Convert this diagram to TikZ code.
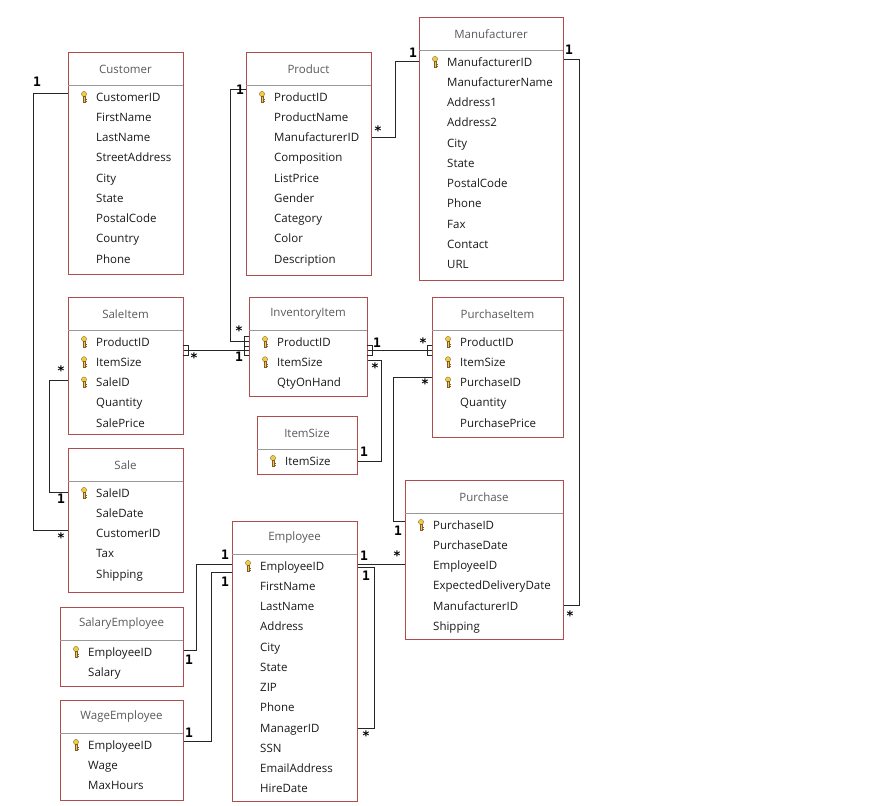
\documentclass[tikz,border=0pt]{standalone}
\usepackage{fontspec}
\setmainfont{Open Sans}
\newfontfamily\cardfont{DejaVu Sans Mono}
\begin{document}
\begin{tikzpicture}[x=1pt,y=-1pt,
  tbl/.style={draw=red!55!black!70, line width=0.8pt},
  hdr/.style={font=\fontsize{11.5}{13}\selectfont, text=black!65},
  fld/.style={font=\fontsize{11.5}{13}\selectfont, anchor=base west, inner sep=0pt, text=black!90},
  card/.style={font=\cardfont\bfseries\fontsize{13}{13}\selectfont, inner sep=0pt},
  rel/.style={line width=0.8pt, black!85},
  brk/.style={line width=0.8pt, black!85}]
\useasboundingbox (0,0) rectangle (877,805);
\newcommand\keyicon[2]{%
  \fill[yellow!60!brown!90, draw=brown!70!black, line width=0.3pt] (#1,#2-3) circle (2.6);
  \fill[yellow!60!brown!90, draw=brown!70!black, line width=0.3pt] (#1-1,#2-1) rectangle (#1+1,#2+5);
  \draw[brown!70!black, line width=0.5pt] (#1+1,#2+2) -- (#1+2.5,#2+2) (#1+1,#2+4)--(#1+2.5,#2+4);}
\newcommand\ertable[7]{%
  \node[tbl, minimum width=#4-#2, minimum height=#5-#3, inner sep=0pt, anchor=north west] (#1) at (#2,#3) {};
  \node[hdr] (#1-t) at ({(#2+#4)/2},#3+17) {#6};
  \draw[black!40, line width=0.8pt] (#2,#3+33) -- (#4,#3+33);
  \foreach \kk/\tt [count=\i from 0] in {#7} {
    \pgfmathsetmacro\yy{#3+45+20.25*\i}
    \node[fld] (#1-\i) at (#2+28,\yy+4.2) {\tt};
    \if K\kk \keyicon{#2+16}{\yy}\fi
  }}
\ertable{customer}{68}{52}{183}{274}{Customer}{K/CustomerID,N/FirstName,N/LastName,N/StreetAddress,N/City,N/State,N/PostalCode,N/Country,N/Phone}
\ertable{product}{246}{52}{371}{275}{Product}{K/ProductID,N/ProductName,N/ManufacturerID,N/Composition,N/ListPrice,N/Gender,N/Category,N/Color,N/Description}
\ertable{manuf}{419}{17}{563}{280}{Manufacturer}{K/ManufacturerID,N/ManufacturerName,N/Address1,N/Address2,N/City,N/State,N/PostalCode,N/Phone,N/Fax,N/Contact,N/URL}
\ertable{saleitem}{68}{297}{183}{434}{SaleItem}{K/ProductID,K/ItemSize,K/SaleID,N/Quantity,N/SalePrice}
\ertable{invitem}{249}{297}{367}{396}{InventoryItem}{K/ProductID,K/ItemSize,N/QtyOnHand}
\ertable{puritem}{432}{297}{563}{437}{PurchaseItem}{K/ProductID,K/ItemSize,K/PurchaseID,N/Quantity,N/PurchasePrice}
\ertable{itemsize}{257}{416}{357}{474}{ItemSize}{K/ItemSize}
\ertable{sale}{68}{448}{183}{592}{Sale}{K/SaleID,N/SaleDate,N/CustomerID,N/Tax,N/Shipping}
\ertable{purchase}{405}{480}{563}{639}{Purchase}{K/PurchaseID,N/PurchaseDate,N/EmployeeID,N/ExpectedDeliveryDate,N/ManufacturerID,N/Shipping}
\ertable{employee}{232}{521}{357}{801}{Employee}{K/EmployeeID,N/FirstName,N/LastName,N/Address,N/City,N/State,N/ZIP,N/Phone,N/ManagerID,N/SSN,N/EmailAddress,N/HireDate}
\ertable{salary}{60}{607}{183}{686}{SalaryEmployee}{K/EmployeeID,N/Salary}
\ertable{wage}{60}{700}{183}{800}{WageEmployee}{K/EmployeeID,N/Wage,N/MaxHours}
% connectors
\draw[rel] (customer.west|-0,93) -| (33,530) -- (sale.west|-0,530);
\node[card] at (37,82) {1}; \node[card] at (61,538) {*};
\draw[rel] (product.west|-0,89) -| (230,341) -- (invitem.west|-0,341);
\node[card] at (240,90) {1}; \node[card] at (239,331) {*};
\draw[rel] (saleitem.east|-0,350) -- (invitem.west|-0,350);
\node[card] at (194,358) {*}; \node[card] at (239,357) {1};
\draw[rel] (invitem.east|-0,350) -- (puritem.west|-0,350);
\node[card] at (377,343) {1}; \node[card] at (423,343) {*};
\draw[rel] (invitem.east|-0,360) -| (381,461) -- (itemsize.east|-0,461);
\node[card] at (375,368) {*}; \node[card] at (364,452) {1};
\draw[rel] (puritem.west|-0,377) -| (393,521) -- (purchase.west|-0,521);
\node[card] at (425,384) {*}; \node[card] at (398,531) {1};
\draw[rel] (manuf.west|-0,61) -| (395,137) -- (product.east|-0,137);
\node[card] at (413,53) {1}; \node[card] at (378,131) {*};
\draw[rel] (manuf.east|-0,59) -| (579,605) -- (purchase.east|-0,605);
\node[card] at (569,50) {1}; \node[card] at (570,616) {*};
\draw[rel] (saleitem.west|-0,380) -| (49,492) -- (sale.west|-0,492);
\node[card] at (61,371) {*}; \node[card] at (61,499) {1};
\draw[rel] (employee.east|-0,564) -- (purchase.west|-0,564);
\node[card] at (364,556) {1}; \node[card] at (397,556) {*};
\draw[rel] (employee.east|-0,567) -| (374,728) -- (employee.east|-0,728);
\node[card] at (366,576) {1}; \node[card] at (366,736) {*};
\draw[rel] (employee.west|-0,564) -| (196,650) -- (salary.east|-0,650);
\node[card] at (225,555) {1}; \node[card] at (189,660) {1};
\draw[rel] (employee.west|-0,572) -| (211,741) -- (wage.east|-0,741);
\node[card] at (225,582) {1}; \node[card] at (189,733) {1};
% end brackets
\draw[brk] (183,345) -- (188,345) -- (188,355) -- (183,355);
\draw[brk] (249,336) -- (244,336) -- (244,346) -- (249,346);
\draw[brk] (249,346) -- (244,346) -- (244,355) -- (249,355);
\draw[brk] (367,345) -- (372,345) -- (372,355) -- (367,355);
\draw[brk] (432,345) -- (427,345) -- (427,355) -- (432,355);
\end{tikzpicture}
\end{document}
